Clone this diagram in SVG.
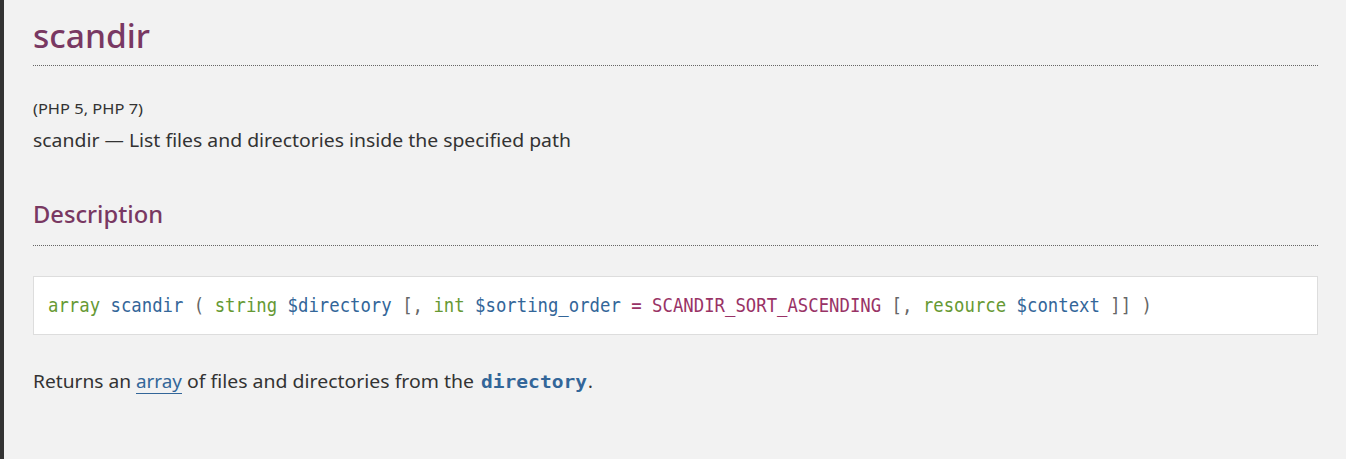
<svg xmlns="http://www.w3.org/2000/svg" width="1346" height="459" viewBox="0 0 1346 459">
<style>
.s{font-family:"Noto Sans","Open Sans",sans-serif;fill:#333}
.h{font-family:"Noto Sans","Open Sans",sans-serif;fill:#793862;font-weight:500}
.m{font-family:"DejaVu Sans Mono","Liberation Mono",monospace;font-size:19px}
.g{fill:#693}.b{fill:#369}.r{fill:#936}.k{fill:#666}
</style>
<rect width="1346" height="459" fill="#f2f2f2"/>
<rect x="0" y="0" width="4" height="459" fill="#333"/>
<text class="h" x="33" y="48" font-size="33" textLength="117" lengthAdjust="spacingAndGlyphs">scandir</text>
<line x1="33" y1="65.5" x2="1318" y2="65.5" stroke="#666" stroke-dasharray="1 1"/>
<text class="s" x="33" y="114" font-size="15" textLength="110" lengthAdjust="spacingAndGlyphs">(PHP 5, PHP 7)</text>
<text class="s" x="33" y="147" font-size="18" textLength="538" lengthAdjust="spacingAndGlyphs">scandir — List files and directories inside the specified path</text>
<text class="h" x="33" y="223" font-size="23" textLength="130" lengthAdjust="spacingAndGlyphs">Description</text>
<line x1="33" y1="245.5" x2="1318" y2="245.5" stroke="#666" stroke-dasharray="1 1"/>
<rect x="33.5" y="276.5" width="1284" height="58" fill="#fff" stroke="#ddd"/>
<text class="m" x="48" y="312" textLength="1104" lengthAdjust="spacingAndGlyphs"><tspan class="g">array</tspan> <tspan class="b">scandir</tspan> <tspan class="k">(</tspan> <tspan class="g">string</tspan> <tspan class="b">$directory</tspan> <tspan class="k">[,</tspan> <tspan class="g">int</tspan> <tspan class="b">$sorting_order</tspan> <tspan class="r">= SCANDIR_SORT_ASCENDING</tspan> <tspan class="k">[,</tspan> <tspan class="g">resource</tspan> <tspan class="b">$context</tspan> <tspan class="k">]] )</tspan></text>
<g font-size="18">
<text class="s" x="33" y="388" textLength="98" lengthAdjust="spacingAndGlyphs">Returns an</text>
<text class="s" x="136" y="388" fill="#369" style="fill:#369" textLength="46" lengthAdjust="spacingAndGlyphs">array</text>
<text class="s" x="187" y="388" textLength="287" lengthAdjust="spacingAndGlyphs">of files and directories from the</text>
<text x="481" y="388" font-family="DejaVu Sans Mono,monospace" font-weight="bold" fill="#369" textLength="106" lengthAdjust="spacingAndGlyphs">directory</text>
<text class="s" x="588" y="388">.</text>
</g>
<line x1="136" y1="393.5" x2="182" y2="393.5" stroke="#369"/>
</svg>
